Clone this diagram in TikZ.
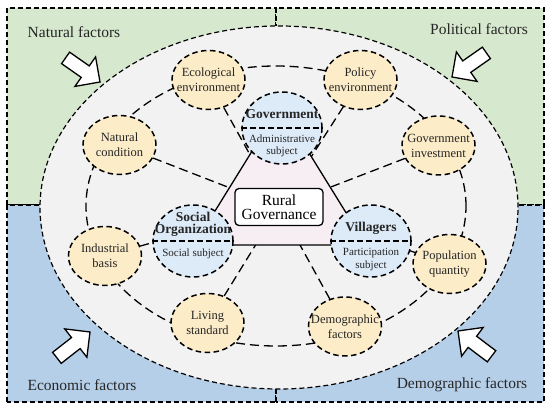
\documentclass[tikz,border=0pt]{standalone}
\usepackage{fontspec}
\setmainfont{Liberation Serif}
\usetikzlibrary{arrows.meta,positioning,shapes.geometric}
\definecolor{natgreen}{RGB}{214,232,206}
\definecolor{ecoblue}{RGB}{182,207,233}
\definecolor{ringgray}{RGB}{242,242,242}
\definecolor{facyellow}{RGB}{252,236,200}
\definecolor{subjblue}{RGB}{221,234,247}
\definecolor{tripink}{RGB}{246,238,243}
\pgfdeclarelayer{bg}\pgfdeclarelayer{links}\pgfdeclarelayer{mid}
\pgfsetlayers{bg,links,mid,main}

\begin{document}
\begin{tikzpicture}[x=1pt,y=1pt,
 quad/.style={draw,dash pattern=on 5pt off 3pt,line width=1.1pt},
 fac/.style={ellipse,draw,dash pattern=on 5.5pt off 3.5pt,line width=1.5pt,fill=facyellow,minimum width=73pt,minimum height=59pt,inner sep=0pt},
 ftxt/.style={align=center,inner sep=0pt,text=black!85,font=\fontsize{12.5}{15}\selectfont},
 subj/.style={ellipse,draw,dash pattern=on 5.5pt off 3.5pt,line width=1.5pt,fill=subjblue,minimum width=80pt,minimum height=72pt,inner sep=0pt},
 stop/.style={align=center,inner sep=0pt,text=black!85,font=\fontsize{13.5}{12}\selectfont\bfseries},
 sbot/.style={align=center,inner sep=0pt,text=black!85,font=\fontsize{11}{12.5}\selectfont},
 divide/.style={dash pattern=on 5.5pt off 3.5pt,line width=1.5pt},
 link/.style={dash pattern=on 9pt off 5pt,line width=1.3pt},
 lbl/.style={inner sep=0pt,text=black!85,font=\fontsize{15.5}{18}\selectfont},
 bigarrow/.pic={\draw[line width=1.3pt,fill=white,line join=miter] (0,0) -- (-18,18) -- (-18,7) -- (-42,7) -- (-42,-7) -- (-18,-7) -- (-18,-18) -- cycle;}]
\useasboundingbox (0,0) rectangle (550,411);
\begin{pgfonlayer}{bg}
\draw[quad,fill=natgreen] (7,206) rectangle (276,403);
\draw[quad,fill=natgreen] (276,206) rectangle (544,403);
\draw[quad,fill=ecoblue] (7,9) rectangle (276,206);
\draw[quad,fill=ecoblue] (276,9) rectangle (544,206);
\draw[fill=ringgray,dash pattern=on 5pt off 3pt,line width=1.2pt] (279,203.5) ellipse [x radius=239,y radius=181.5];
\draw[link] (276,205) ellipse [x radius=190,y radius=140];
\end{pgfonlayer}

\node[fac] (eco) at (208.5,331) {};
\node[fac] (pol) at (360.5,331) {};
\node[fac] (nat) at (119.5,266) {};
\node[fac] (gin) at (438.5,265.5) {};
\node[fac] (ind) at (105,155) {};
\node[fac] (pop) at (449.5,147) {};
\node[fac] (liv) at (207.5,88) {};
\node[fac] (dem) at (345,84.5) {};
\node[ftxt] (eco-t) at (eco) {Ecological\\environment};
\node[ftxt] (pol-t) at (pol) {Policy\\environment};
\node[ftxt] (nat-t) at (nat) {Natural\\condition};
\node[ftxt] (gin-t) at (gin) {Government\\investment};
\node[ftxt] (ind-t) at (ind) {Industrial\\basis};
\node[ftxt] (pop-t) at (pop) {Population\\quantity};
\node[ftxt] (liv-t) at (liv) {Living\\standard};
\node[ftxt] (dem-t) at (dem) {Demographic\\factors};

\node[subj] (gov) at (282,283) {};
\node[subj] (soc) at (193,170) {};
\node[subj] (vil) at (371,170) {};
\draw[divide] (gov.west) -- (gov.east);
\draw[divide] (soc.west) -- (soc.east);
\draw[divide] (vil.west) -- (vil.east);
\node[stop] (gov-t) at ([yshift=13.5pt]gov.center) {Government};
\node[sbot] (gov-b) at ([yshift=-18pt]gov.center) {Administrative\\subject};
\node[stop] (soc-t) at ([yshift=17pt]soc.center) {Social\\Organization};
\node[sbot] (soc-b) at ([yshift=-13pt]soc.center) {Social subject};
\node[stop] (vil-t) at ([yshift=12.5pt]vil.center) {Villagers};
\node[sbot] (vil-b) at ([yshift=-18.5pt]vil.center) {Participation\\subject};

\node[draw,fill=white,rounded corners=4pt,line width=1.3pt,minimum width=88pt,minimum height=37pt,inner sep=2pt,align=center,font=\fontsize{15.5}{14}\selectfont] (rural) at (279,204) {Rural\\Governance};

\begin{pgfonlayer}{links}
\foreach \f in {eco,pol,nat,gin,ind,pop,liv,dem}
  \draw[link] (\f) -- (rural.center);
\end{pgfonlayer}
\begin{pgfonlayer}{mid}
\draw[fill=tripink,line width=1.3pt] (280,305) -- (194,166) -- (366,166) -- cycle;
\end{pgfonlayer}

\node[lbl] (natf) at (74,378.5) {Natural factors};
\node[lbl] (polf) at (479,382) {Political factors};
\node[lbl] (ecof) at (82,26) {Economic factors};
\node[lbl] (demf) at (462,26) {Demographic factors};
\pic[rotate=-35] at (100,329) {bigarrow};
\pic[rotate=215] at (452,334) {bigarrow};
\pic[rotate=38] at (90,79) {bigarrow};
\pic[rotate=143] at (458,80) {bigarrow};
\end{tikzpicture}
\end{document}
